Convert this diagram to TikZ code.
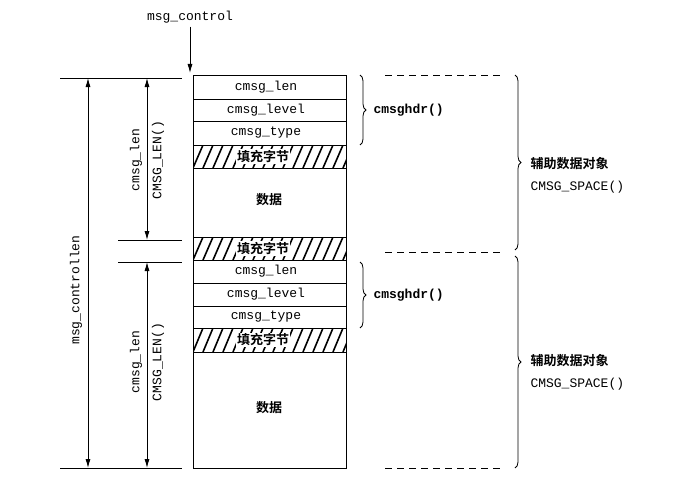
\documentclass[tikz,border=0pt]{standalone}
\usepackage{fontspec}
\setmonofont{Liberation Mono}
\newfontfamily\cjk{Noto Sans CJK SC Bold}
\usetikzlibrary{arrows.meta,decorations.pathreplacing}
\begin{document}
\begin{tikzpicture}[x=1pt,y=-1pt,
  fld/.style={font=\ttfamily\fontsize{13}{13}\selectfont},
  cj/.style={font=\cjk\fontsize{13}{13}\selectfont},
  dim/.style={{Latex[length=9pt,width=5pt]}-{Latex[length=9pt,width=5pt]},line width=0.8pt},
  brc/.style={decorate,decoration={brace,amplitude=6pt},line width=0.8pt},
  dsh/.style={dash pattern=on 7pt off 5pt,line width=0.8pt}]
\useasboundingbox (0,0) rectangle (680,495);
\def\bx{193}\def\ex{346}
% rows
\foreach \a/\b/\t [count=\i] in {75/99/cmsg\_len,99/121/cmsg\_level,121/145/cmsg\_type,260/283/cmsg\_len,283/306/cmsg\_level,306/328/cmsg\_type}{
  \draw[line width=0.8pt] (\bx,\a) rectangle (\ex,\b);
  \node[fld] (f\i) at (\bx+73,{(\a+\b)/2}) {\t};}
\foreach \a/\b [count=\i] in {145/168,237/260,328/352}{
  \begin{scope}
  \clip (\bx,\a) rectangle (\ex,\b);
  \foreach \k in {0,10,...,180} \draw[line width=1.6pt] (\bx+\k-10,\b) -- (\bx+\k,\a);
  \end{scope}
  \draw[line width=0.8pt] (\bx,\a) rectangle (\ex,\b);
  \node[cj,fill=white,inner sep=1pt] (p\i) at (\bx+70,{(\a+\b)/2}) {填充字节};}
\draw[line width=0.8pt] (\bx,168) rectangle (\ex,237);
\node[cj] (d1) at (\bx+76,200) {数据};
\draw[line width=0.8pt] (\bx,352) rectangle (\ex,468);
\node[cj] (d2) at (\bx+76,408) {数据};
% msg_control
\node[fld] (mc) at (190,17) {msg\_control};
\coordinate (mct) at (190,73);
\draw[-{Latex[length=9pt,width=5pt]},line width=0.8pt] (mc.south) -- (mct);
% left dims
\coordinate (l1a) at (60,78); \coordinate (l1b) at (182,78);
\coordinate (l2a) at (60,468); \coordinate (l2b) at (182,468);
\coordinate (l3a) at (118,240); \coordinate (l3b) at (182,240);
\coordinate (l4a) at (118,262); \coordinate (l4b) at (182,262);
\draw[line width=0.8pt] (l1a)--(l1b) (l2a)--(l2b) (l3a)--(l3b) (l4a)--(l4b);
\coordinate (m1) at (88,78); \coordinate (m2) at (88,468);
\draw[dim] (m1) -- (m2);
\node[fld,rotate=90] (ml) at (76,290) {msg\_controllen};
\coordinate (c1) at (147,78); \coordinate (c2) at (147,240);
\coordinate (c3) at (147,262); \coordinate (c4) at (147,468);
\draw[dim] (c1) -- (c2);
\draw[dim] (c3) -- (c4);
\node[fld,rotate=90] (cl1) at (136,160) {cmsg\_len};
\node[fld,rotate=90] (cL1) at (158,160) {CMSG\_LEN()};
\node[fld,rotate=90] (cl2) at (136,362) {cmsg\_len};
\node[fld,rotate=90] (cL2) at (158,362) {CMSG\_LEN()};
% small braces
\coordinate (b1a) at (360,75); \coordinate (b1b) at (360,145);
\coordinate (b2a) at (360,262); \coordinate (b2b) at (360,328);
\draw[brc] (b1a) -- (b1b);
\draw[brc] (b2a) -- (b2b);
\node[font=\ttfamily\bfseries\fontsize{13}{13}\selectfont,anchor=west] (h1) at (370,110) {cmsghdr()};
\node[font=\ttfamily\bfseries\fontsize{13}{13}\selectfont,anchor=west] (h2) at (370,295) {cmsghdr()};
% dashed
\coordinate (s1a) at (385,75); \coordinate (s1b) at (500,75);
\coordinate (s2a) at (385,252); \coordinate (s2b) at (500,252);
\coordinate (s3a) at (385,468); \coordinate (s3b) at (500,468);
\draw[dsh] (s1a)--(s1b) (s2a)--(s2b) (s3a)--(s3b);
% big braces
\coordinate (B1a) at (515,75); \coordinate (B1b) at (515,250);
\coordinate (B2a) at (515,256); \coordinate (B2b) at (515,468);
\draw[brc] (B1a) -- (B1b);
\draw[brc] (B2a) -- (B2b);
\node[cj,anchor=west] (o1) at (527,164) {辅助数据对象};
\node[fld,anchor=west] (sp1) at (527,187) {CMSG\_SPACE()};
\node[cj,anchor=west] (o2) at (527,361) {辅助数据对象};
\node[fld,anchor=west] (sp2) at (527,384) {CMSG\_SPACE()};
\end{tikzpicture}
\end{document}
